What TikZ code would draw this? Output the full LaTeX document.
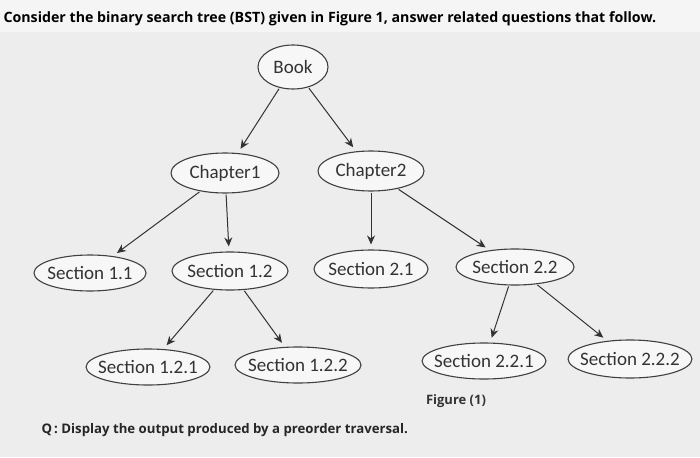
\documentclass[tikz,border=0pt]{standalone}
\usepackage{fontspec}
\setmainfont{Open Sans}
\newfontfamily\nodefont{Carlito}
\usetikzlibrary{shapes.geometric,arrows.meta}
\begin{document}
\begin{tikzpicture}[x=1pt,y=-1pt,
  tn/.style={ellipse,draw=black!75,line width=1.1pt,fill=gray!6,inner xsep=-6pt,inner ysep=0pt,font=\nodefont\fontsize{19}{21}\selectfont,text=black!80},
  ar/.style={-{Stealth[length=9pt,width=8pt]},draw=black!80,line width=1pt,shorten >=5pt,shorten <=1pt}]
\useasboundingbox[fill=gray!14] (0,0) rectangle (700,457);
\fill[white!92!gray] (0,0) rectangle (700,32);
\node[anchor=west,font=\bfseries\fontsize{14.2}{16}\selectfont] (title) at (0,19) {Consider the binary search tree (BST) given in Figure 1, answer related questions that follow.};
\node[tn,minimum width=70,minimum height=44] (book) at (293,67) {Book};
\node[tn,minimum width=108,minimum height=40] (c1) at (225,173) {Chapter1};
\node[tn,minimum width=106,minimum height=40] (c2) at (371,171) {Chapter2};
\node[tn,minimum width=112,minimum height=36] (s11) at (90,273) {Section 1.1};
\node[tn,minimum width=116,minimum height=38] (s12) at (230,271) {Section 1.2};
\node[tn,minimum width=114,minimum height=38] (s21) at (371,269) {Section 2.1};
\node[tn,minimum width=118,minimum height=36] (s22) at (515,267) {Section 2.2};
\node[tn,minimum width=118,minimum height=36] (s121) at (148,367) {Section 1.2.1};
\node[tn,minimum width=126,minimum height=36] (s122) at (298,365) {Section 1.2.2};
\node[tn,minimum width=120,minimum height=36] (s221) at (484,361) {Section 2.2.1};
\node[tn,minimum width=122,minimum height=38] (s222) at (630,359) {Section 2.2.2};
\draw[ar] (book) -- (c1);
\draw[ar] (book) -- (c2);
\draw[ar] (c1) -- (s11);
\draw[ar] (c1) -- (s12);
\draw[ar] (c2) -- (s21);
\draw[ar] (c2) -- (s22);
\draw[ar] (s12) -- (s121);
\draw[ar] (s12) -- (s122);
\draw[ar] (s22) -- (s221);
\draw[ar] (s22) -- (s222);
\node[font=\bfseries\fontsize{13}{15}\selectfont,text=black!80] (fig) at (456,401) {Figure (1)};
\node[anchor=west,font=\bfseries\fontsize{13.2}{15}\selectfont,text=black!85] (q) at (38,430) {Q\,: Display the output produced by a preorder traversal.};
\end{tikzpicture}
\end{document}
